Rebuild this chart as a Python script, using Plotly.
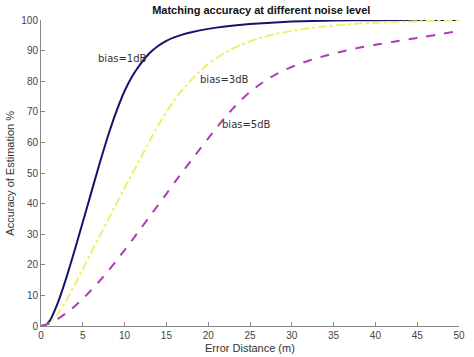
import plotly.graph_objects as go

# Data
x_1db = [0, 0.5, 1, 2, 3, 4, 5, 6, 7, 8, 9, 10, 11, 12, 13, 14, 15, 16, 17, 18, 20, 22, 25, 30, 35, 40, 45, 50]
y_1db = [0, 0.3, 1.5, 7.5, 15.5, 24.5, 34, 43.5, 53, 62, 70, 76.8, 82, 86, 89.2, 91.5, 93.2, 94.4, 95.3, 96.0, 97.1, 97.9, 98.7, 99.5, 99.8, 99.95, 100, 100]

x_3db = [0, 1, 2, 3, 4, 5, 6, 7, 8, 9, 10, 11, 12, 13, 14, 15, 16, 17, 18, 19, 20, 22, 24, 26, 28, 30, 32, 34, 36, 38, 40, 45, 50]
y_3db = [0, 1, 4, 8.2, 13.3, 18.6, 24, 29.3, 34.6, 39.9, 45.1, 50.2, 55.3, 60.5, 65.5, 70, 74, 77.5, 80.5, 83.2, 85.6, 89.3, 92, 94, 95.4, 96.5, 97.3, 97.9, 98.4, 98.8, 99.1, 99.6, 99.9]

x_5db = [0, 1, 2, 3, 4, 5, 6, 7, 8, 9, 10, 11, 12, 13, 14, 15, 16, 17, 18, 19, 20, 21, 22, 23, 24, 25, 26, 27, 28, 29, 30, 32, 34, 36, 38, 40, 42, 44, 46, 48, 50]
y_5db = [0, 0.8, 2.3, 4.2, 6.4, 8.9, 11.7, 14.7, 17.9, 21.3, 24.8, 28.4, 32.1, 35.8, 39.5, 43.2, 47, 50.6, 54.2, 57.8, 61.3, 64.8, 68.1, 71.2, 74, 76.5, 78.6, 80.5, 82.1, 83.5, 84.7, 86.7, 88.3, 89.7, 90.9, 91.9, 92.8, 93.7, 94.6, 95.5, 96.4]

labels = ["bias=1dB", "bias=3dB", "bias=5dB"]
label_x = [9.7, 22.0, 24.6]
label_y = [87.3, 80.4, 65.7]

x_ticks = list(range(0, 51, 5))
y_ticks = list(range(0, 101, 10))

fig = go.Figure()
fig.add_trace(go.Scatter(x=x_1db, y=y_1db, mode="lines", line=dict(color="#14146e", width=2, shape="spline", smoothing=0.5), showlegend=False))
fig.add_trace(go.Scatter(x=x_3db, y=y_3db, mode="lines", line=dict(color="#eeee60", width=1.8, dash="dashdot", shape="spline", smoothing=0.5), showlegend=False))
fig.add_trace(go.Scatter(x=x_5db, y=y_5db, mode="lines", line=dict(color="#b03ab8", width=2, dash="dash", shape="spline", smoothing=0.5), showlegend=False))

for t, lx, ly in zip(labels, label_x, label_y):
    fig.add_annotation(x=lx, y=ly, xref="x", yref="y", text=t, showarrow=False,
                       font=dict(family="DejaVu Sans", size=10, color="#333333"))

# axis titles as paper annotations
fig.add_annotation(x=0.5, y=-0.073, xref="paper", yref="paper", text="Error Distance (m)", showarrow=False,
                   xanchor="center", yanchor="middle",
                   font=dict(family="Liberation Sans, Arial", size=11, color="#333333"))
fig.add_annotation(x=-0.075, y=0.5, xref="paper", yref="paper", text="Accuracy of Estimation %", showarrow=False,
                   textangle=-90, xanchor="center", yanchor="middle",
                   font=dict(family="Liberation Sans, Arial", size=11, color="#333333"))

axis_common = dict(showgrid=False, zeroline=False, showline=True, linecolor="#888888", linewidth=1,
                   ticks="inside", ticklen=4, tickcolor="#888888", mirror=False, automargin=False,
                   tickfont=dict(family="Liberation Sans, Arial", size=10, color="#444444"))

fig.update_layout(
    width=474, height=357,
    margin=dict(l=41, r=15, t=20, b=31),
    paper_bgcolor="white", plot_bgcolor="white",
    title=dict(text="<b>Matching accuracy at different noise level</b>", x=0.527, xanchor="center",
               xref="paper", y=0.972, yref="container", yanchor="middle", automargin=False,
               font=dict(family="Liberation Sans, Arial", size=11, color="#111111")),
    xaxis=dict(range=[0, 50], tickvals=x_ticks, ticktext=[str(v) for v in x_ticks], **axis_common),
    yaxis=dict(range=[0, 100], tickvals=y_ticks, ticktext=[str(v) for v in y_ticks], **axis_common),
)

fig.write_html("out.html", config={"displayModeBar": False},
               post_script="document.body.style.margin='0';document.body.style.overflow='hidden';")
